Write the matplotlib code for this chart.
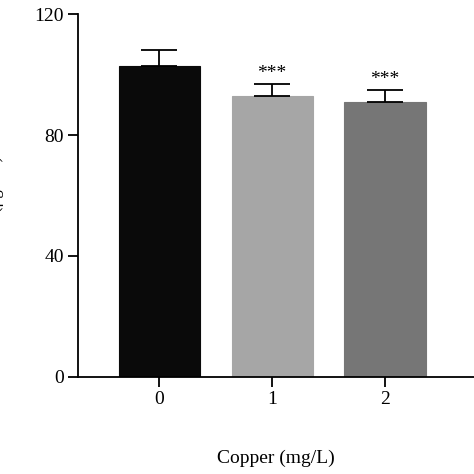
import matplotlib.pyplot as plt

plt.rcParams['font.family'] = ['Liberation Serif', 'DejaVu Serif']

categories = ["0", "1", "2"]
means = [103, 93, 91]
errors = [5, 4, 4]
stars = ["", "***", "***"]
colors = ["#0a0a0a", "#a6a6a6", "#767676"]

fig = plt.figure(figsize=(4.74, 4.74), dpi=100)
ax = fig.add_axes([0.165, 0.205, 0.835, 0.765])

x = range(len(categories))
ax.bar(x, means, width=0.72, color=colors, edgecolor=colors, linewidth=0.8)
ax.errorbar(x, means, yerr=[[0] * 3, errors], fmt="none", ecolor="black",
            elinewidth=1.3, capsize=13, capthick=1.3)
for i, (m, e, s) in enumerate(zip(means, errors, stars)):
    if s:
        ax.text(i, m + e + 0.5, s, ha="center", va="bottom", fontsize=14)

ax.set_xlim(-0.72, 2.79)
ax.set_ylim(0, 120)
ax.set_yticks([0, 40, 80, 120])
ax.set_xticks(list(x))
ax.set_xticklabels(categories)
ax.tick_params(labelsize=14, width=1.3, length=7)
ax.spines["top"].set_visible(False)
ax.spines["right"].set_visible(False)
for s in ("left", "bottom"):
    ax.spines[s].set_linewidth(1.3)
ax.set_xlabel("Copper (mg/L)", fontsize=14, labelpad=30)
ax.set_ylabel("TP (μg/mL)", fontsize=12, labelpad=22)

fig.savefig("out.png", dpi=100, facecolor="white")
